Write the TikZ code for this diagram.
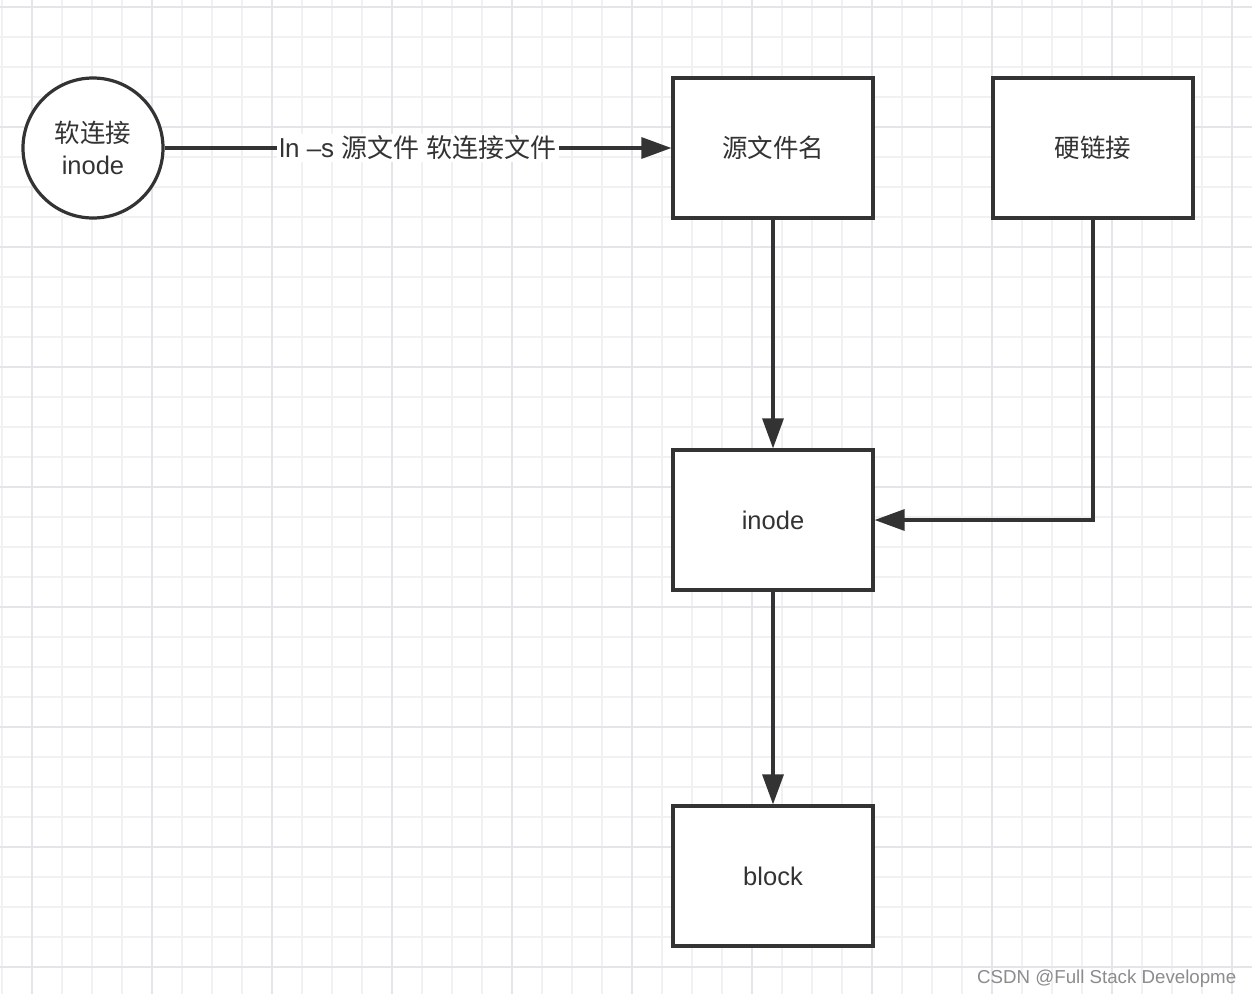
\documentclass[tikz,border=0pt]{standalone}
\usepackage{fontspec}
\setmainfont{Liberation Sans}
\newfontfamily\cjk{Noto Sans CJK SC}
\usetikzlibrary{arrows.meta}
\definecolor{linec}{HTML}{333333}
\definecolor{gridminor}{HTML}{F1F1F3}
\definecolor{gridmajor}{HTML}{E5E5E9}
\definecolor{wm}{HTML}{8C8C8C}
\tikzset{
  gminor/.style={draw=gridminor, line width=1.5pt},
  gmajor/.style={draw=gridmajor, line width=2pt},
  boxnode/.style={draw=linec, line width=3.2pt, minimum width=200pt, minimum height=140pt, fill=white, inner sep=0pt, text=linec, font=\fontsize{25.5}{32}\selectfont},
  circnode/.style={circle, draw=linec, line width=3.2pt, minimum size=140pt, fill=white, inner sep=0pt, align=center, text=linec, font=\fontsize{25.5}{32}\selectfont},
  conn/.style={draw=linec, line width=3.2pt, -{Triangle[length=30pt, width=21pt]}},
  lbl/.style={fill=white, inner sep=2pt, text=linec, font=\fontsize{26}{32}\selectfont}
}
\begin{document}
\begin{tikzpicture}[x=1pt,y=-1pt]
\useasboundingbox (0,0) rectangle (1252,994);
\fill[white] (0,0) rectangle (1252,994);
\foreach \x in {2,32,...,1232} \draw[gminor] (\x,0) -- (\x,994);
\foreach \y in {7,37,...,967} \draw[gminor] (0,\y) -- (1252,\y);
\foreach \x in {32,152,...,1232} \draw[gmajor] (\x,0) -- (\x,994);
\foreach \y in {7,127,...,967} \draw[gmajor] (0,\y) -- (1252,\y);

\node[circnode] (circ) at (93,148) {{\cjk 软连接}\\inode};
\node[boxnode] (src) at (773,148) {\cjk 源文件名};
\node[boxnode] (hard) at (1093,148) {\cjk 硬链接};
\node[boxnode] (ino) at (773,520) {inode};
\node[boxnode] (blk) at (773,876) {block};

\draw[conn] (circ) -- node[lbl] {ln –s {\cjk 源文件} {\cjk 软连接文件}} (src);
\draw[conn] (src) -- (ino);
\draw[conn] (hard.south) |- (ino.east);
\draw[conn] (ino) -- (blk);

\node[anchor=base west, inner sep=0pt, text=wm, font=\fontsize{18.7}{22}\selectfont] (wmark) at (977,983) {CSDN @Full Stack Developme};
\end{tikzpicture}
\end{document}
